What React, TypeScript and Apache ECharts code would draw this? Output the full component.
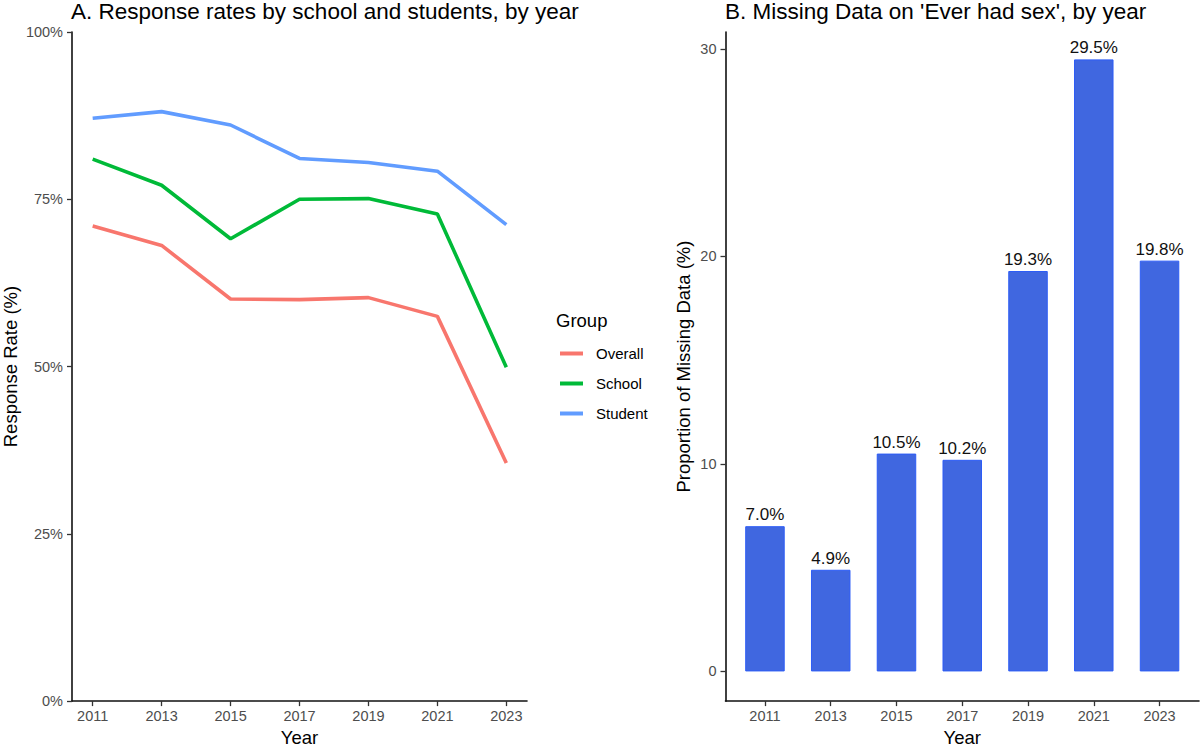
import { useEffect, useRef } from 'react';
import * as echarts from 'echarts';

const years = [2011, 2013, 2015, 2017, 2019, 2021, 2023];

// Panel A: response rates (%)
const groups = ['Overall', 'School', 'Student'];
const overallRate = [71.0, 68.1, 60.1, 60.0, 60.3, 57.5, 35.6];
const schoolRate = [81.0, 77.1, 69.1, 75.0, 75.1, 72.8, 49.9];
const studentRate = [87.1, 88.1, 86.1, 81.1, 80.5, 79.2, 71.2];
const groupColors = ['#F8766D', '#00BA38', '#619CFF'];
const rateTicks = [0, 25, 50, 75, 100];

// Panel B: missing data on 'Ever had sex' (%)
const missingPct = [7.0, 4.9, 10.5, 10.2, 19.3, 29.5, 19.8];
const missingTicks = [0, 10, 20, 30];

const FONT = '"Liberation Sans", Arial, Helvetica, sans-serif';

export default function App() {
  const elRef = useRef<HTMLDivElement | null>(null);

  useEffect(() => {
    const el = elRef.current;
    if (!el) return;
    const chart = echarts.init(el, undefined, { renderer: 'svg' });

    const axisLine = { show: true, onZero: false, lineStyle: { color: '#111', width: 1.6 } };
    const axisTick = { show: true, length: 5, lineStyle: { color: '#333', width: 1.3 } };
    const tickLabel = { color: '#4d4d4d', fontSize: 14.5, fontFamily: FONT };
    const axisName = { color: '#000', fontSize: 18.5, fontFamily: FONT };
    const titleStyle = { fontSize: 22.5, fontWeight: 'normal', color: '#000', fontFamily: FONT };

    const rateSeries = [overallRate, schoolRate, studentRate].map((vals, k) => ({
      name: groups[k],
      type: 'line',
      xAxisIndex: 0,
      yAxisIndex: 0,
      showSymbol: false,
      color: groupColors[k],
      lineStyle: { width: 3.6, color: groupColors[k] },
      data: years.map((y, i) => [y, vals[i]]),
    }));

    const yearAxis = (gridIndex: number, min: number, max: number) => ({
      gridIndex,
      type: 'value',
      min,
      max,
      splitLine: { show: false },
      axisLine,
      axisTick: { ...axisTick, customValues: years },
      axisLabel: { ...tickLabel, customValues: years, margin: 7, formatter: (v: number) => String(v) },
      name: 'Year',
      nameLocation: 'middle',
      nameGap: 25,
      nameTextStyle: axisName,
    });

    chart.setOption({
      animation: false,
      backgroundColor: '#fff',
      textStyle: { fontFamily: FONT },
      title: [
        {
          text: 'A. Response rates by school and students, by year',
          left: 71,
          top: 0,
          padding: 0,
          textStyle: titleStyle,
        },
        {
          text: "B. Missing Data on 'Ever had sex', by year",
          left: 725,
          top: 0,
          padding: 0,
          textStyle: titleStyle,
        },
        {
          text: 'Group',
          left: 556,
          top: 311,
          padding: 0,
          textStyle: { ...titleStyle, fontSize: 18.5 },
        },
      ],
      legend: {
        data: groups,
        orient: 'vertical',
        left: 560,
        top: 346,
        padding: 0,
        icon: 'rect',
        itemWidth: 23,
        itemHeight: 4,
        itemGap: 15,
        textStyle: { color: '#000', fontSize: 15, fontFamily: FONT, padding: [0, 0, 0, 8] },
      },
      grid: [
        { left: 71, top: 32, width: 456, height: 676 },
        { left: 725.5, top: 32, width: 473.5, height: 676 },
      ],
      xAxis: [yearAxis(0, 2010.4, 2023.6), yearAxis(1, 2009.8, 2024.2)],
      yAxis: [
        {
          gridIndex: 0,
          type: 'value',
          min: 0,
          max: 100,
          interval: 25,
          splitLine: { show: false },
          axisLine,
          axisTick: { ...axisTick, customValues: rateTicks },
          axisLabel: { ...tickLabel, customValues: rateTicks, formatter: (v: number) => `${v}%`, margin: 9 },
          name: 'Response Rate (%)',
          nameLocation: 'middle',
          nameRotate: 90,
          nameGap: 52,
          nameTextStyle: axisName,
        },
        {
          gridIndex: 1,
          type: 'value',
          min: -1.43,
          max: 30.82,
          splitLine: { show: false },
          axisLine,
          axisTick: { ...axisTick, customValues: missingTicks },
          axisLabel: { ...tickLabel, customValues: missingTicks, margin: 9 },
          name: 'Proportion of Missing Data (%)',
          nameLocation: 'middle',
          nameRotate: 90,
          nameGap: 33,
          nameTextStyle: axisName,
        },
      ],
      series: [
        ...rateSeries,
        {
          name: 'Missing',
          type: 'bar',
          xAxisIndex: 1,
          yAxisIndex: 1,
          barWidth: 39.5,
          itemStyle: { color: '#4067E0', borderColor: '#2C5CF6', borderWidth: 1 },
          label: {
            show: true,
            position: 'top',
            distance: 3,
            color: '#111',
            fontSize: 17,
            fontFamily: FONT,
            formatter: (p: { value: number[] }) => `${p.value[1].toFixed(1)}%`,
          },
          data: years.map((y, i) => [y, missingPct[i]]),
        },
      ],
    });

    return () => {
      chart.dispose();
    };
  }, []);

  return (
    <div
      ref={elRef}
      style={{ position: 'fixed', left: 0, top: 0, width: 1200, height: 752, background: '#fff' }}
    />
  );
}
